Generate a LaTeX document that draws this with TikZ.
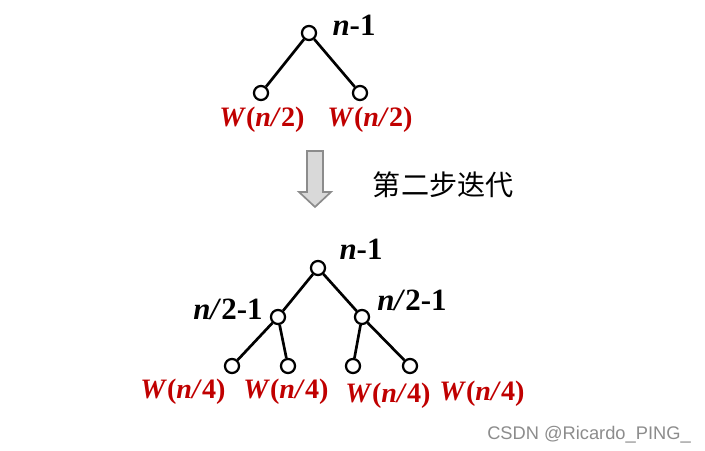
\documentclass[tikz,border=0pt]{standalone}
\usepackage{fontspec}
\setmainfont{Liberation Serif}
\newfontfamily\cjk{Noto Sans CJK SC}
\newfontfamily\wmfont{Liberation Sans}
\definecolor{wred}{HTML}{C00000}
\definecolor{arrfill}{HTML}{D9D9D9}
\definecolor{arrline}{HTML}{8C8C8C}
\tikzset{
  vtx/.style={circle,draw,line width=1.6pt,fill=white,inner sep=0pt,minimum size=10pt},
  edge/.style={line width=1.9pt},
  cost/.style={font=\fontsize{22}{26}\selectfont\bfseries},
  leaf/.style={font=\fontsize{20}{24}\selectfont\bfseries,text=wred}
}
\newcommand{\nw}[1]{\textit{W}(\textit{n/}#1)}
\begin{document}
\begin{tikzpicture}[x=0.025cm,y=-0.025cm]
  \useasboundingbox (0,0) rectangle (705,451);
  % first step
  \node[vtx] (r) at (309,33) {};
  \node[vtx] (a) at (261,93) {};
  \node[vtx] (b) at (360,93) {};
  \draw[edge] (r) -- (a);
  \draw[edge] (r) -- (b);
  \node[cost] (rl) at (354,25) {\textit{n}-1};
  \node[leaf] (al) at (262,120) {\nw{2}};
  \node[leaf] (bl) at (370,120) {\nw{2}};
  % arrow
  \draw[line width=1.2pt,draw=arrline,fill=arrfill,line join=miter]
    (307,151) -- (323,151) -- (323,192) -- (331,192) -- (315,207)
    -- (299,192) -- (307,192) -- cycle;
  \node[font=\cjk\fontsize{20}{24}\selectfont,anchor=west] (it) at (368,185) {第二步迭代};
  % second step
  \node[vtx] (s) at (318,268) {};
  \node[vtx] (c) at (278,317) {};
  \node[vtx] (d) at (362,317) {};
  \node[vtx] (c1) at (232,366) {};
  \node[vtx] (c2) at (288,366) {};
  \node[vtx] (d1) at (353,366) {};
  \node[vtx] (d2) at (410,366) {};
  \foreach \p/\q in {s/c,s/d,c/c1,c/c2,d/d1,d/d2}
    \draw[edge] (\p) -- (\q);
  \node[cost] (sl) at (361,249) {\textit{n}-1};
  \node[cost] (cl) at (228,309) {\textit{n/}2-1};
  \node[cost] (dl) at (412,300) {\textit{n/}2-1};
  \node[leaf] (c1l) at (183,392) {\nw{4}};
  \node[leaf] (c2l) at (286,392) {\nw{4}};
  \node[leaf] (d1l) at (388,396) {\nw{4}};
  \node[leaf] (d2l) at (482,394) {\nw{4}};
  \node[font=\wmfont\fontsize{13}{15}\selectfont,text=black!45] (wm) at (589,435) {CSDN @Ricardo\_PING\_};
\end{tikzpicture}
\end{document}
